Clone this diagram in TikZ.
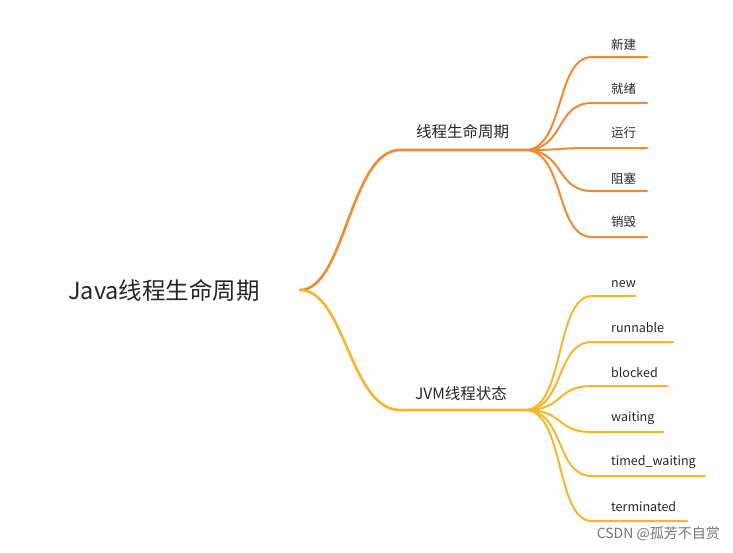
\documentclass[tikz,border=0pt]{standalone}
\usepackage{fontspec}
\setmainfont{Noto Sans CJK SC}
\definecolor{org}{HTML}{F08A35}
\definecolor{yel}{HTML}{F7B52C}
\begin{document}
\begin{tikzpicture}[x=1pt,y=-1pt,
  br/.style={line width=2.6pt,line cap=round},
  lf/.style={line width=2pt,line cap=round},
  lt/.style={anchor=west,font=\fontsize{12.5}{14}\selectfont,text=black!85,inner sep=0pt}]
\useasboundingbox (0,0) rectangle (733,552);
\node[anchor=west,font=\fontsize{23.5}{26}\selectfont,text=black!85,inner sep=0pt] (root) at (68,290) {Java线程生命周期};
\coordinate (r) at (300,290);
\node[anchor=west,font=\fontsize{15.5}{17}\selectfont,text=black!85,inner sep=0pt] (a) at (416,132) {线程生命周期};
\node[anchor=west,font=\fontsize{15.5}{17}\selectfont,text=black!85,inner sep=0pt] (b) at (415,394) {JVM线程状态};
\coordinate (a0) at (400,150); \coordinate (a1) at (525,150);
\coordinate (b0) at (400,410); \coordinate (b1) at (525,410);
\draw[br,org] (r) .. controls (345,290) and (350,150) .. (a0) -- (a1);
\draw[br,yel] (r) .. controls (345,290) and (350,410) .. (b0) -- (b1);
\foreach \t/\y/\ty in {新建/57/45,就绪/103/89,运行/148/133,阻塞/191/179,销毁/237/222}{
  \node[lt] (n\y) at (611,\ty) {\t};
  \draw[lf,org] (a1) .. controls (565,150) and (555,\y) .. (592,\y) -- (647,\y);
}
\foreach \t/\y/\ty/\e in {new/296/284/635,runnable/342/328/673,blocked/386/373/667,waiting/432/418/663,timed\_waiting/476/462/705,terminated/521/507/687}{
  \node[lt] (m\y) at (611,\ty) {\t};
  \draw[lf,yel] (b1) .. controls (565,410) and (555,\y) .. (592,\y) -- (\e,\y);
}
\node[anchor=east,font=\fontsize{14}{16}\selectfont,text=black!55,inner sep=0pt] (wm) at (720,534) {CSDN @孤芳不自赏};
\end{tikzpicture}
\end{document}
